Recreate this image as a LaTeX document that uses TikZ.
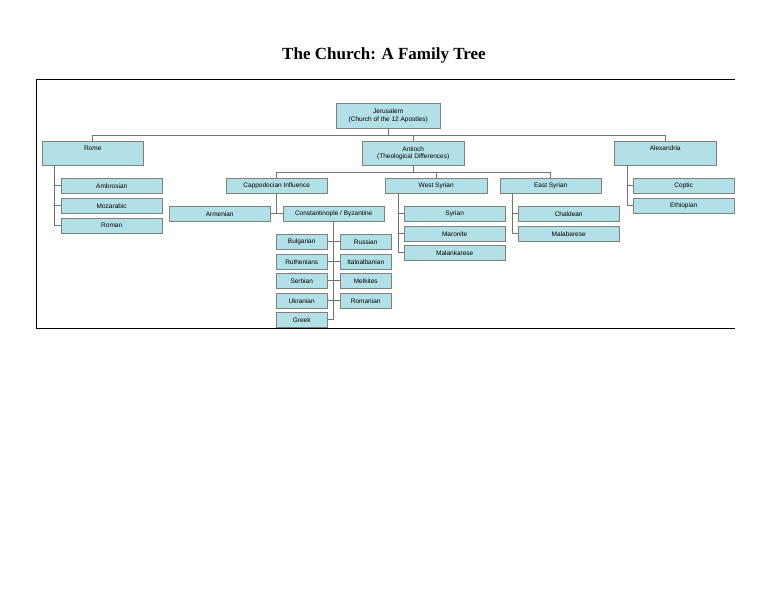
\documentclass[tikz,border=0pt]{standalone}
\usepackage{fontspec}
\setmainfont{Liberation Serif}
\setsansfont{Liberation Sans}
\begin{document}
\begin{tikzpicture}[x=1pt,y=-1pt,
  box/.style={draw=black!50,fill=boxfill,inner sep=0pt,anchor=north west,font=\sffamily\fontsize{6.5}{7.5}\selectfont,align=center},
  conn/.style={draw=black!55,line width=0.6pt}]
\definecolor{boxfill}{HTML}{B2E0E6}
\useasboundingbox (0,0) rectangle (768,594);
\newcommand{\bx}[6]{\node[box,minimum width={#4-#2},minimum height={#5-#3}] (#1) at (#2,#3) {#6};}
\node[font=\bfseries\fontsize{17}{20}\selectfont] (title) at (384,55) {The Church: A Family Tree};
\draw[black,line width=0.8pt] (735,79) -- (36,79) -- (36,328) -- (735,328);
\bx{jer}{336}{103}{440}{128}{Jerusalem\\(Church of the 12 Apostles)}
\bx{rome}{42}{141}{143}{165}{Rome\\[2pt]~}
\bx{ant}{362}{141}{464}{165}{Antioch\\(Theological Differences)}
\bx{alex}{614}{141}{716}{165}{Alexandria\\[2pt]~}
\bx{amb}{61}{178}{162}{193}{Ambrosian}
\bx{moz}{61}{198}{162}{213}{Mozarabic}
\bx{rom}{61}{218}{162}{233}{Roman}
\bx{cap}{226}{178}{327}{193}{Cappodocian Influence}
\bx{ws}{385}{178}{487}{193}{West Syrian}
\bx{es}{500}{178}{601}{193}{East Syrian}
\bx{arm}{169}{206}{270}{221}{Armenian}
\bx{con}{283}{206}{384}{221}{Constantinople / Byzantine}
\bx{bul}{276}{234}{327}{249}{Bulgarian}
\bx{rut}{276}{254}{327}{269}{Ruthenians}
\bx{ser}{276}{273}{327}{288}{Serbian}
\bx{ukr}{276}{293}{327}{308}{Ukranian}
\bx{gre}{276}{312}{327}{327}{Greek}
\bx{rus}{340}{234}{391}{249}{Russian}
\bx{ita}{340}{254}{391}{269}{Italoalbanian}
\bx{mel}{340}{273}{391}{288}{Melkites}
\bx{rmn}{340}{293}{391}{308}{Romanian}
\bx{syr}{404}{206}{505}{221}{Syrian}
\bx{mar}{404}{226}{505}{241}{Maronite}
\bx{mal}{404}{245}{505}{260}{Malankarese}
\bx{cha}{518}{206}{619}{221}{Chaldean}
\bx{mbr}{518}{226}{619}{241}{Malabarese}
\bx{cop}{633}{178}{734}{193}{Coptic}
\bx{eth}{633}{198}{734}{213}{Ethiopian}
% connectors
\draw[conn] (jer.south) -- +(0,7) -| (rome.north);
\draw[conn] (jer.south) -- +(0,7) -| (ant.north);
\draw[conn] (jer.south) -- +(0,7) -| (alex.north);
\foreach \c in {amb,moz,rom} \draw[conn] ([xshift=12pt]rome.south west) |- (\c.west);
\draw[conn] (ant.south) -- +(0,7) -| (cap.north);
\draw[conn] (ant.south) -- +(0,7) -| (ws.north);
\draw[conn] (ant.south) -- +(0,7) -| (es.north);
\draw[conn] (cap.south) |- (arm.east);
\draw[conn] (arm.east) -- (con.west);
\draw[conn] (con.south) |- (gre.east);
\draw[conn] (bul.east) -- (rus.west);
\draw[conn] (rut.east) -- (ita.west);
\draw[conn] (ser.east) -- (mel.west);
\draw[conn] (ukr.east) -- (rmn.west);
\foreach \c in {syr,mar,mal} \draw[conn] ([xshift=13pt]ws.south west) |- (\c.west);
\foreach \c in {cha,mbr} \draw[conn] ([xshift=12pt]es.south west) |- (\c.west);
\foreach \c in {cop,eth} \draw[conn] ([xshift=13pt]alex.south west) |- (\c.west);
\end{tikzpicture}
\end{document}
